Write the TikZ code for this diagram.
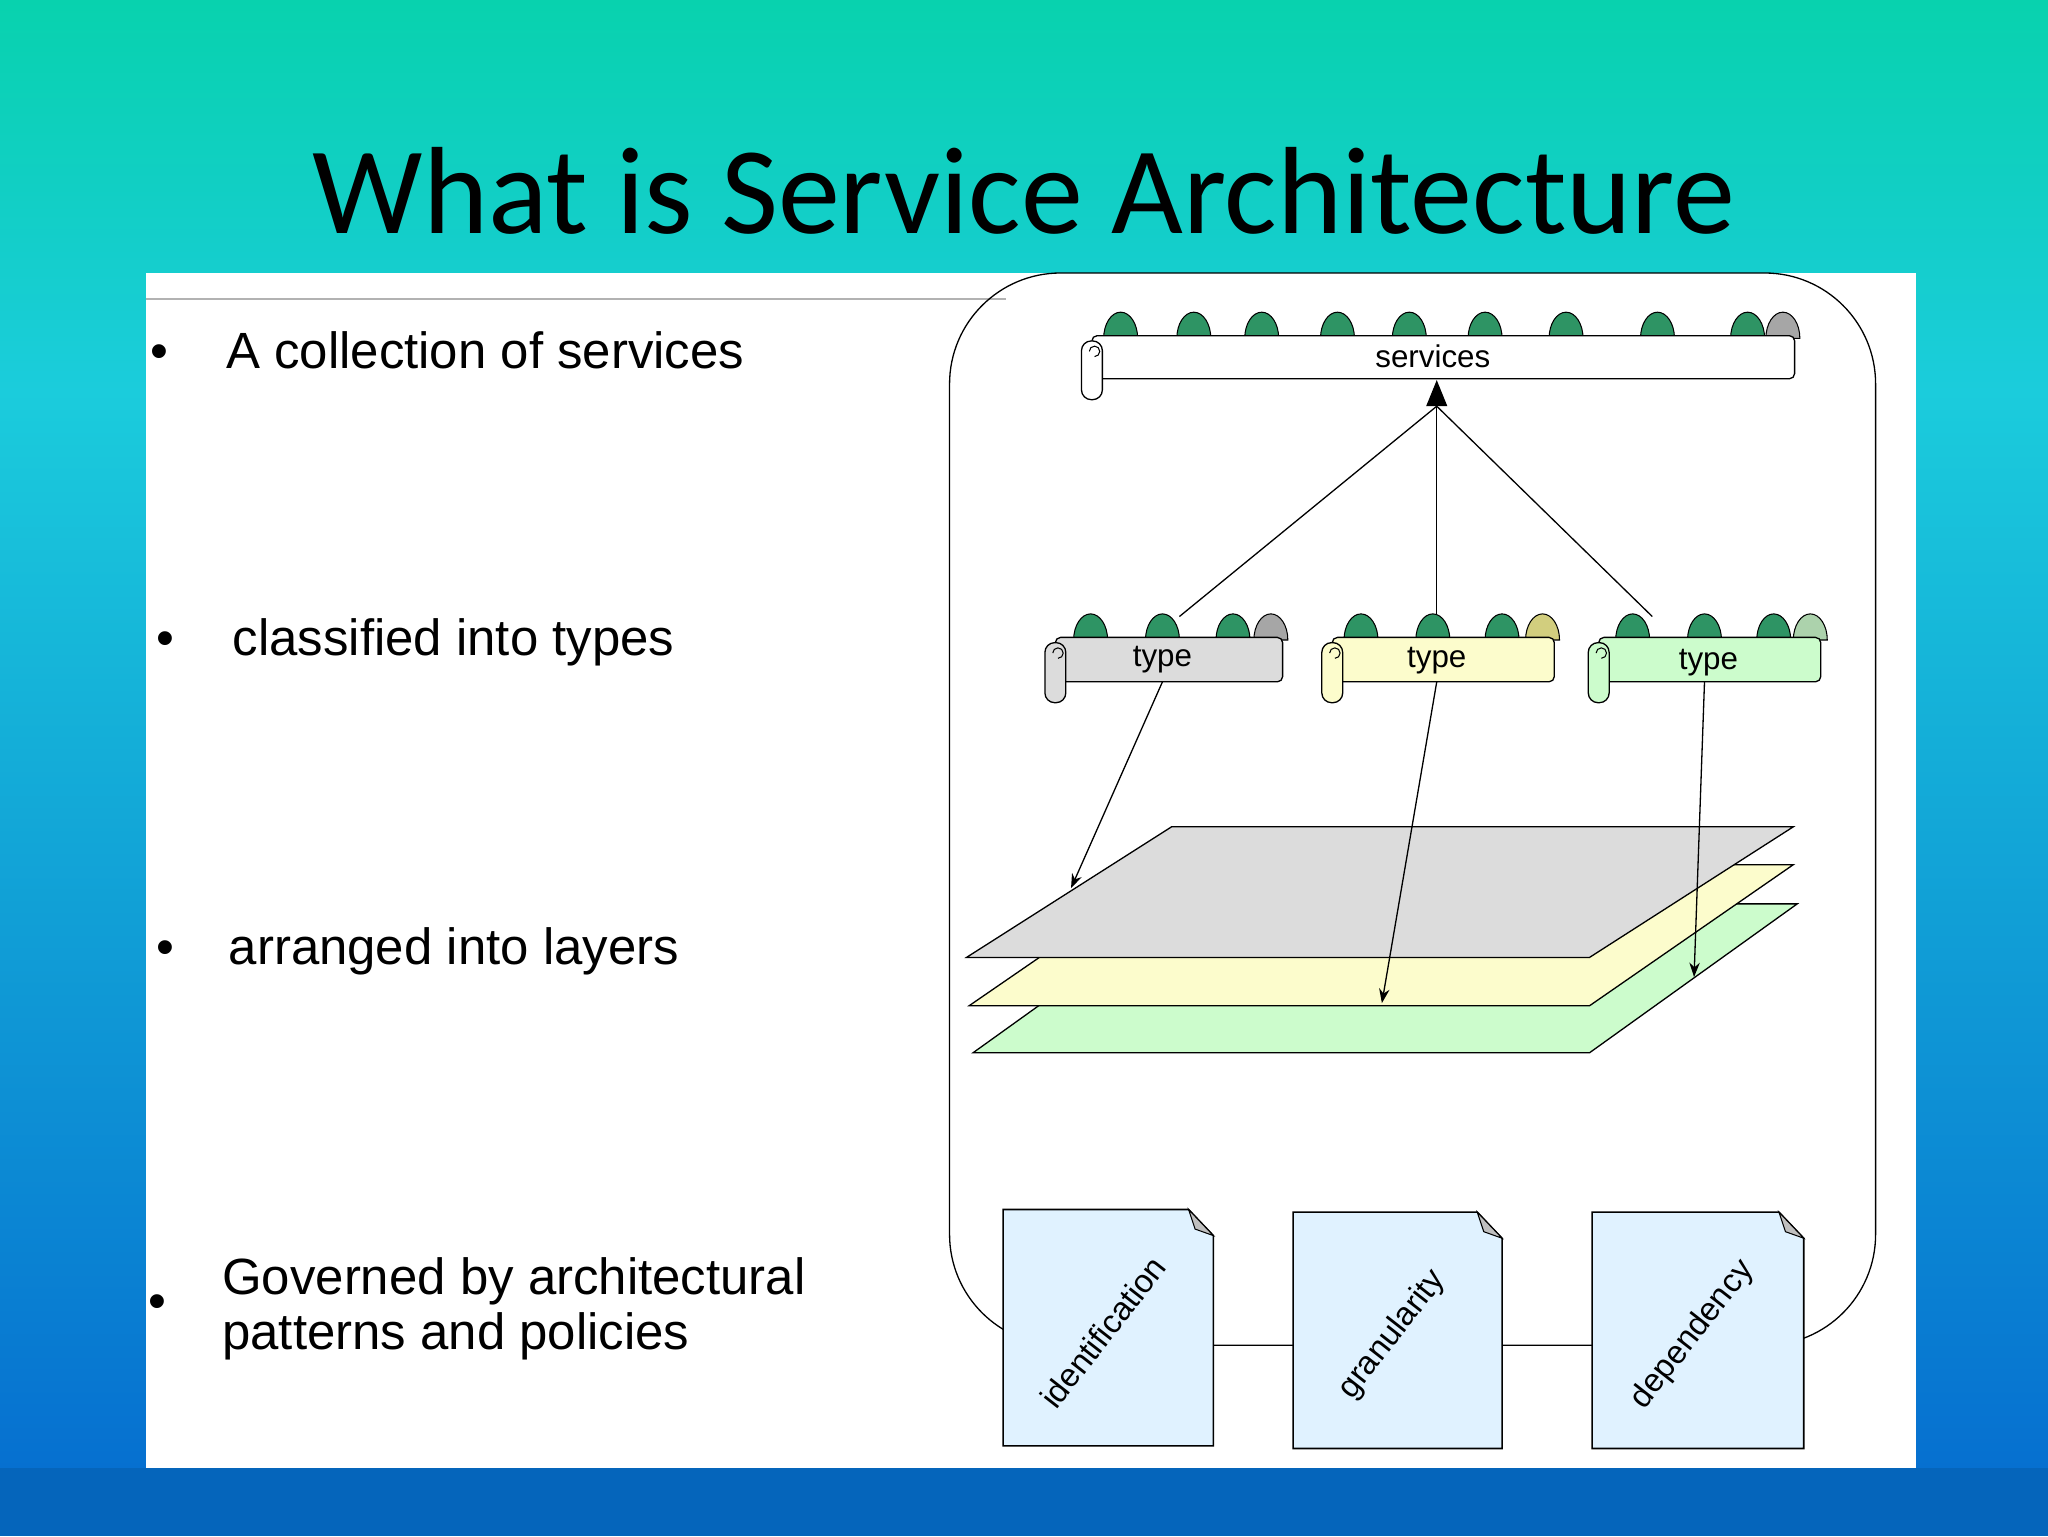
\documentclass[tikz,border=0pt]{standalone}
\usepackage{fontspec}
\setmainfont{Liberation Sans}
\newfontfamily\titlefont{Carlito}
\usetikzlibrary{arrows.meta}
\definecolor{bgtop}{HTML}{08D2AE}
\definecolor{bgmid}{HTML}{1BCCDC}
\definecolor{bgbot}{HTML}{0670D0}
\definecolor{bump}{HTML}{2E9464}
\definecolor{tgray}{HTML}{DCDCDC}
\definecolor{tyel}{HTML}{FCFCCC}
\definecolor{tgrn}{HTML}{CCFCCC}
\definecolor{docb}{HTML}{E0F2FF}
\tikzset{
  bullet/.style={anchor=west,font=\fontsize{39}{46}\selectfont,align=left},
  lbl/.style={font=\fontsize{24}{28}\selectfont},
  dlbl/.style={font=\fontsize{25}{30}\selectfont},
  doc/.style={draw=black,line width=1.2pt,fill=docb},
  conn/.style={draw=black,line width=1pt},
}
\newcommand\myscroll[6]{% x1 x2 ytop ybot fill name
  \fill[#5,draw=black,line width=1pt,rounded corners=4pt] (#1+8,#3) rectangle (#2,#4);
  \draw[fill=#5,line width=1pt,rounded corners=7.5pt] (#1,#3+4) rectangle (#1+16,#4+16);
  \draw[line width=0.8pt] (#1+10,#3+16) arc[start angle=90,end angle=-180,radius=4];
  \node (#6) at ({(#1+#2)/2+6},{(#3+#4)/2}) {};
}
\newcommand\mybump[3]{% x y fill
  \draw[fill=#3,line width=0.8pt] (#1-13,#2) arc[start angle=180,end angle=360,x radius=13,y radius=20] -- cycle;
}
\begin{document}
\begin{tikzpicture}[x=1pt,y=-1pt]
\useasboundingbox (0,0) rectangle (1568,1176);
\shade[top color=bgtop,bottom color=bgmid] (0,0) rectangle (1568,300);
\shade[top color=bgmid,bottom color=bgbot] (0,300) rectangle (1568,1124);
\fill[bgbot!90!black] (0,1124) rectangle (1568,1176);
\node[font=\titlefont\fontsize{95}{110}\selectfont] (title) at (784,146) {What is Service Architecture};
\fill[white] (112,209) rectangle (1467,1124);
\draw[gray!60,line width=2pt] (112,229) -- (770,229);
% bullets
\node[bullet] (b1) at (112,268) {•\hspace{44pt}A collection of services};
\node[bullet] (b2) at (116,492) {•\hspace{45pt}classified into types};
\node[bullet] (b3) at (116,728) {•\hspace{42pt}arranged into layers};
\node[bullet] (b4) at (110,1003) {•\hspace{43pt}\begin{tabular}[c]{@{}l@{}}Governed by architectural\\[-4pt]patterns and policies\end{tabular}};
% container
\draw[line width=1pt,rounded corners=85pt] (727,209) rectangle (1436,1030);
% services scroll
\foreach \x in {858,914,966,1024,1079,1137,1199,1269,1338} {\mybump{\x}{259}{bump}}
\mybump{1365}{259}{gray!70}
\myscroll{828}{1374}{257}{290}{white}{serv}
\node[lbl] (servl) at (1097,273) {services};
% types
\foreach \x in {835,890,944} {\mybump{\x}{490}{bump}}
\mybump{973}{490}{gray!70}
\myscroll{800}{982}{488}{522}{tgray}{t1}
\node[lbl] at (890,505) {type};
\foreach \x in {1042,1097,1150} {\mybump{\x}{490}{bump}}
\mybump{1181}{490}{olive!40}
\myscroll{1012}{1190}{488}{522}{tyel}{t2}
\node[lbl] at (1100,506) {type};
\foreach \x in {1250,1305,1358} {\mybump{\x}{490}{bump}}
\mybump{1386}{490}{green!30!gray!50}
\myscroll{1216}{1394}{488}{522}{tgrn}{t3}
\node[lbl] at (1308,507) {type};
% layers
\draw[fill=tgrn,line width=1pt] (745,806) -- (1217,806) -- (1376,692) -- (904,692) -- cycle;
\draw[fill=tyel,line width=1pt] (742,770) -- (1217,770) -- (1373,662) -- (899,662) -- cycle;
\draw[fill=tgray,line width=1pt] (740,733) -- (1217,733) -- (1373,633) -- (897,633) -- cycle;
\coordinate (l1) at (820,680);
\coordinate (l2) at (1058,768);
\coordinate (l3) at (1297,748);
\coordinate (apex) at (1100,291);
\coordinate (s1) at (903,472);
\coordinate (s2) at (1100,470);
\coordinate (s3) at (1265,472);
\draw[conn] (s1) -- (1100,311);
\draw[conn] (s3) -- (1100,311);
\draw[conn,-{Triangle[length=20pt,width=16pt]}] (s2) -- (apex);
\draw[conn,-{Stealth[length=11pt,width=8pt]}] (890,522) -- (l1);
\draw[conn,-{Stealth[length=11pt,width=8pt]}] (1100,522) -- (l2);
\draw[conn,-{Stealth[length=11pt,width=8pt]}] (1305,522) -- (l3);
% documents
\foreach \n/\a/\b/\t/\txt in {d1/768/929/926/identification,d2/990/1150/928/granularity,d3/1219/1381/928/dependency}{
  \draw[doc] (\a,\t) -- (\b-19,\t) -- (\b,\t+20) -- (\b,\t+181) -- (\a,\t+181) -- cycle;
  \draw[fill=gray!50,line width=0.8pt] (\b-19,\t) -- (\b-14,\t+15) -- (\b,\t+20) -- cycle;
  \node[dlbl,rotate=52] (\n) at ({(\a+\b)/2-4},\t+94) {\txt};
}
\draw[conn] (929,1030) -- (990,1030);
\draw[conn] (1150,1030) -- (1219,1030);
\end{tikzpicture}
\end{document}
